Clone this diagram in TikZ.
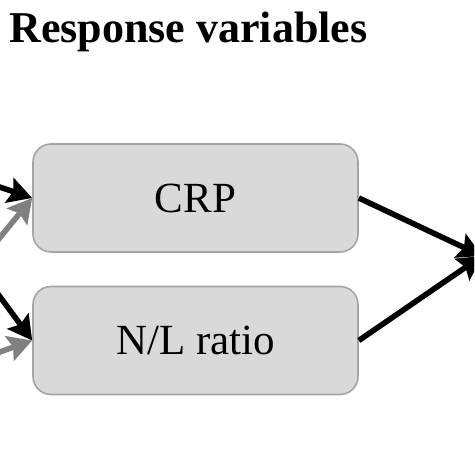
\documentclass[tikz,border=0pt]{standalone}
\usepackage{fontspec}
\setmainfont{Liberation Serif}
\usepackage{tikz}
\usetikzlibrary{arrows.meta, positioning}
\definecolor{boxfill}{RGB}{217,217,217}
\definecolor{boxline}{RGB}{165,165,165}
\definecolor{arrowgrey}{RGB}{128,128,128}

\begin{document}
\begin{tikzpicture}[x=0.5pt, y=-0.5pt,
    varbox/.style={draw=boxline, line width=0.8pt, fill=boxfill, rounded corners=9pt,
        minimum width=162.5pt, minimum height=54pt, inner sep=0pt,
        font=\fontsize{21.5}{25}\selectfont},
    blackarrow/.style={draw=black, line width=2.8pt, -{Stealth[length=12pt, width=13pt, inset=2pt]}},
    greyarrow/.style={draw=arrowgrey, line width=2.8pt, -{Stealth[length=12pt, width=13pt, inset=2pt]}}]
    \useasboundingbox (0,0) rectangle (474,474);
    \clip (0,0) rectangle (474,474);

    % title
    \node[anchor=base west, inner sep=0pt, font=\fontsize{22}{26}\selectfont\bfseries]
        (title) at (9,43) {Response variables};

    % response boxes
    \node[varbox] (crp) at (195.5,198) {CRP};
    \node[varbox] (nlr) at (195.5,340.5) {N/L ratio};

    % sources and target outside the frame
    \coordinate (crpsrcA) at (-33,176);
    \coordinate (crpsrcB) at (-33,278);
    \coordinate (nlrsrcA) at (-33,252);
    \coordinate (nlrsrcB) at (-40,366);
    \coordinate (outcome) at (482,256);

    % incoming arrows
    \draw[blackarrow] (crpsrcA) -- (crp.west);
    \draw[greyarrow] (crpsrcB) -- (crp.west);
    \draw[blackarrow] (nlrsrcA) -- (nlr.west);
    \draw[greyarrow] (nlrsrcB) -- (nlr.west);

    % outgoing arrows
    \draw[blackarrow] (crp.east) -- (outcome);
    \draw[blackarrow] (nlr.east) -- (outcome);
\end{tikzpicture}
\end{document}
